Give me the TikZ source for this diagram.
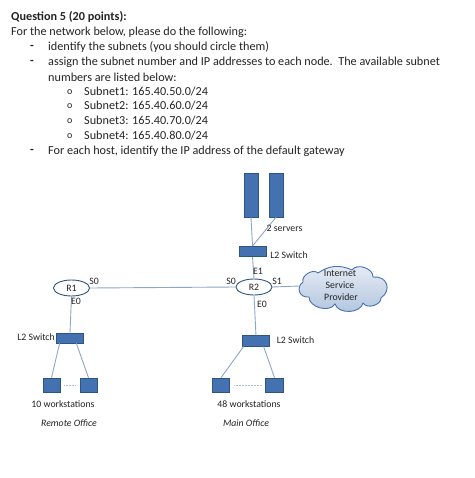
\documentclass[tikz,border=0pt]{standalone}
\usepackage{fontspec}
\setmainfont{Carlito}
\usetikzlibrary{shapes.geometric}
\definecolor{boxc}{RGB}{68,114,176}
\definecolor{edgec}{RGB}{46,84,130}
\definecolor{linkc}{RGB}{140,165,200}
\definecolor{inkc}{RGB}{35,35,35}
\tikzset{
  para/.style={anchor=west,inner sep=0pt,font=\fontsize{12.2}{14}\selectfont,text=inkc},
  tag/.style={inner sep=0pt,font=\fontsize{9.8}{11}\selectfont,text=inkc},
  hw/.style={rectangle,draw=edgec,fill=boxc,line width=0.6pt,inner sep=0pt},
  router/.style={ellipse,draw=edgec,fill=white,line width=0.9pt,inner sep=0pt,minimum width=36pt,minimum height=16pt,font=\fontsize{9.8}{11}\selectfont,text=inkc},
  link/.style={draw=linkc,line width=0.9pt},
  gap/.style={draw=linkc!70,densely dotted,line width=0.5pt,shorten >=4pt,shorten <=4pt}
}
\begin{document}
\begin{tikzpicture}[x=1pt,y=-1pt]
  \useasboundingbox (0,0) rectangle (474,478);
  % question text
  \node[para,font=\fontsize{12.2}{14}\selectfont\bfseries] (qhead) at (11,17) {Question 5 (20 points):};
  \node[para] (qintro) at (11,32) {For the network below, please do the following:};
  \node[para] (dashA) at (30,47) {\textbf{-}};
  \node[para] (itemA) at (48,47) {identify the subnets (you should circle them)};
  \node[para] (dashB) at (30,62) {\textbf{-}};
  \node[para] (itemB) at (48,62) {assign the subnet number and IP addresses to each node.\ \ The available subnet};
  \node[para] (itemBb) at (48,77) {numbers are listed below:};
  \node[para,font=\fontsize{10}{12}\selectfont] (bulA) at (67,92) {o};
  \node[para] (netA) at (84,92) {Subnet1: 165.40.50.0/24};
  \node[para,font=\fontsize{10}{12}\selectfont] (bulB) at (67,106) {o};
  \node[para] (netB) at (84,106) {Subnet2: 165.40.60.0/24};
  \node[para,font=\fontsize{10}{12}\selectfont] (bulC) at (67,121) {o};
  \node[para] (netC) at (84,121) {Subnet3: 165.40.70.0/24};
  \node[para,font=\fontsize{10}{12}\selectfont] (bulD) at (67,136) {o};
  \node[para] (netD) at (84,136) {Subnet4: 165.40.80.0/24};
  \node[para] (dashC) at (30,151) {\textbf{-}};
  \node[para] (itemC) at (48,151) {For each host, identify the IP address of the default gateway};
  % servers and top switch
  \node[hw,minimum width=14pt,minimum height=44pt] (srvA) at (251,195) {};
  \node[hw,minimum width=14pt,minimum height=44pt] (srvB) at (276,195) {};
  \node[hw,minimum width=27pt,minimum height=10.5pt] (swTop) at (252.5,251.5) {};
  % routers
  \node[router] (rOne) at (71.5,288) {R1};
  \node[router] (rTwo) at (254,287) {R2};
  % isp cloud, drawn lobe by lobe
  \draw[draw=boxc,line width=0.9pt,top color=boxc!12,bottom color=boxc!42]
    (303,282) to[bend left=75] (318,273) to[bend left=30] (352,270)
    to[bend left=75] (373,277) to[bend left=75,looseness=1.6] (381,298)
    to[bend left=75] (363,303) to[bend left=75] (335,304)
    to[bend left=75] (309,297) to[bend left=75,looseness=1.5] cycle;
  \coordinate (ispPort) at (299.5,286);
  \node[tag] (ispA) at (340,273) {Internet};
  \node[tag] (ispB) at (340,285) {Service};
  \node[tag] (ispC) at (341,297) {Provider};
  % remote office
  \node[hw,minimum width=27pt,minimum height=10pt] (swRem) at (70,338) {};
  \node[hw,minimum width=17pt,minimum height=14pt] (wsRemA) at (51.5,385) {};
  \node[hw,minimum width=17pt,minimum height=14pt] (wsRemB) at (88.5,385) {};
  % main office
  \node[hw,minimum width=27pt,minimum height=10.5pt] (swMain) at (256,341) {};
  \node[hw,minimum width=17.5pt,minimum height=14pt] (wsMainA) at (221,385) {};
  \node[hw,minimum width=17.5pt,minimum height=14pt] (wsMainB) at (274.5,385) {};
  % links
  \draw[link] (srvA.south) -- (swTop.north);
  \draw[link] (srvB.south) -- (swTop.north);
  \draw[link] (swTop.south) -- (rTwo.north);
  \draw[link] (rOne.east) -- (rTwo.west);
  \draw[link] (rTwo.east) -- (ispPort);
  \draw[link] (rTwo.south) -- (swMain.north);
  \draw[link] (rOne.south) -- (swRem.north);
  \draw[link] (swRem.207) -- (wsRemA.north);
  \draw[link] (swRem.320) -- (wsRemB.north);
  \draw[link] (swMain.204) -- (wsMainA.north);
  \draw[link] (swMain.324) -- (wsMainB.north);
  \draw[gap] (wsRemA.east) -- (wsRemB.west);
  \draw[gap] (wsMainA.east) -- (wsMainB.west);
  % labels
  \node[tag] (lblSrv) at (284.5,228) {2 servers};
  \node[tag] (lblTop) at (289,255) {L2 Switch};
  \node[tag] (lblEone) at (258,271) {E1};
  \node[tag] (lblSzero) at (231,281) {S0};
  \node[tag] (lblSone) at (277,281) {S1};
  \node[tag] (lblEzero) at (262,304) {E0};
  \node[tag] (lblRs) at (94,281) {S0};
  \node[tag] (lblRe) at (76,301) {E0};
  \node[tag] (lblRem) at (36,337) {L2 Switch};
  \node[tag] (lblMain) at (295.5,340) {L2 Switch};
  \node[tag] (lblWsRem) at (63,404) {10 workstations};
  \node[tag] (lblWsMain) at (249,404) {48 workstations};
  \node[tag,font=\fontsize{9.8}{11}\selectfont\itshape] (lblOffRem) at (69,423) {Remote Office};
  \node[tag,font=\fontsize{9.8}{11}\selectfont\itshape] (lblOffMain) at (246,423) {Main Office};
\end{tikzpicture}
\end{document}
